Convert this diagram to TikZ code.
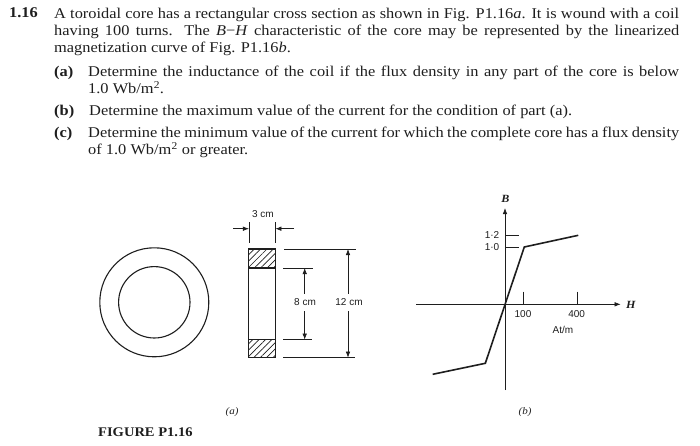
\documentclass[tikz,border=0pt]{standalone}
\usepackage{fontspec}
\setmainfont[FakeStretch=1.1]{Liberation Serif}
\newfontfamily\figsans{Liberation Sans}
\usepackage{xcolor}
\usepackage{tikz}
\usetikzlibrary{arrows.meta, patterns.meta}
\definecolor{Ink}{HTML}{1E1E1E}
\tikzset{
  body/.style={color=Ink, font=\fontsize{14.9}{17.1}\selectfont, anchor=north west, inner sep=0pt, align=justify},
  bodybold/.style={body, font=\fontsize{14.9}{17.1}\selectfont\bfseries},
  figlabel/.style={color=Ink, font=\figsans\fontsize{10}{11}\selectfont, inner sep=1pt},
  axislabel/.style={color=Ink, font=\bfseries\itshape\fontsize{11}{12}\selectfont, inner sep=0pt},
  caption/.style={color=Ink, font=\itshape\fontsize{10}{11}\selectfont, inner sep=0pt},
  core/.style={draw=Ink, line width=1.1pt},
  hatched/.style={core, pattern={Lines[angle=45, distance=4.5pt, line width=0.7pt]}, pattern color=Ink},
  guide/.style={draw=Ink, line width=0.6pt},
  dim/.style={Latex-Latex, line width=0.7pt, color=Ink},
  axis/.style={-Latex, line width=0.7pt, color=Ink},
  curve/.style={draw=Ink, line width=1.6pt},
}
\begin{document}
\begin{tikzpicture}[x=1pt, y=-1pt]
  \useasboundingbox (0,0) rectangle (700,446);

  % Problem text
  \node[bodybold] (num) at (9,7.5) {1.16};
  \node[body, text width=625pt] (intro) at (54,7.5) {A toroidal core has a rectangular cross section as shown in Fig. P1.16\textit{a}. It is wound with a coil\linebreak
    having 100 turns. The \textit{B}−\textit{H} characteristic of the core may be represented by the linearized\linebreak
    magnetization curve of Fig. P1.16\textit{b}.};
  \node[bodybold] (parta) at (54,65.5) {(a)};
  \node[body, text width=591pt] (texta) at (88,65.5) {Determine the inductance of the coil if the flux density in any part of the core is below\linebreak
    1.0 Wb/m\textsuperscript{2}.};
  \node[bodybold] (partb) at (54,105) {(b)};
  \node[body] (textb) at (89,105) {Determine the maximum value of the current for the condition of part (a).};
  \node[bodybold] (partc) at (54,126.5) {(c)};
  \node[body, text width=591pt] (textc) at (88,126.5) {Determine the minimum value of the current for which the complete core has a flux density\linebreak
    of 1.0 Wb/m\textsuperscript{2} or greater.};

  % Ring
  \draw[core] (154.3,302.3) circle (54.5);
  \draw[core] (154.3,302.3) circle (35.7);

  % Section of the core
  \draw[core] (248.7,249) rectangle (275.3,357.7);
  \draw[hatched] (248.7,249) rectangle (275.3,268);
  \draw[hatched] (248.7,339.3) rectangle (275.3,357.7);

  % Dimensions
  \draw[guide] (249,222) -- (249,243);
  \draw[guide] (275.3,222) -- (275.3,243);
  \draw[axis] (233,228.7) -- (249,228.7);
  \draw[axis] (294,228.7) -- (275.3,228.7);
  \node[figlabel] (width) at (263,214) {3 cm};
  \draw[guide] (284,249) -- (356,249);
  \draw[guide] (283,357.7) -- (355,357.7);
  \draw[guide] (283,268) -- (312.7,268);
  \draw[guide] (283,339.7) -- (312,339.7);
  \draw[dim] (304.7,268) -- (304.7,339.7);
  \draw[dim] (348,249) -- (348,357.7);
  \node[figlabel, fill=white, inner ysep=5pt] (inner) at (305,302.5) {8 cm};
  \node[figlabel, fill=white, inner ysep=5pt] (outer) at (349,302.5) {12 cm};

  % B-H axes
  \draw[axis] (416,304.3) -- (620.7,304.3);
  \draw[axis] (505,390) -- (505,208);
  \node[axislabel] (bname) at (505.3,199) {B};
  \node[axislabel] (hname) at (630.7,305) {H};
  \foreach \y/\t in {235/1·2, 247.5/1·0}{
    \draw[guide] (505,\y) -- (519.3,\y);
    \node[figlabel] at (492,\y) {\t};
  }
  \foreach \x/\t in {523.7/100, 577.3/400}{
    \draw[guide] (\x,291.7) -- (\x,304.3);
    \node[figlabel] at (\x-0.7,313.7) {\t};
  }
  \node[figlabel] (unit) at (563,330) {At/m};

  % Magnetization curve
  \draw[curve] (432.7,374.3) -- (485.3,363.3) -- (524.3,247) -- (578.3,235.3);

  % Captions
  \node[caption] (capa) at (232,412) {(a)};
  \node[caption] (capb) at (525,412) {(b)};
  \node[bodybold, font=\bfseries\fontsize{13.2}{14}\selectfont, anchor=west] (figname) at (98,432) {FIGURE P1.16};
\end{tikzpicture}
\end{document}
